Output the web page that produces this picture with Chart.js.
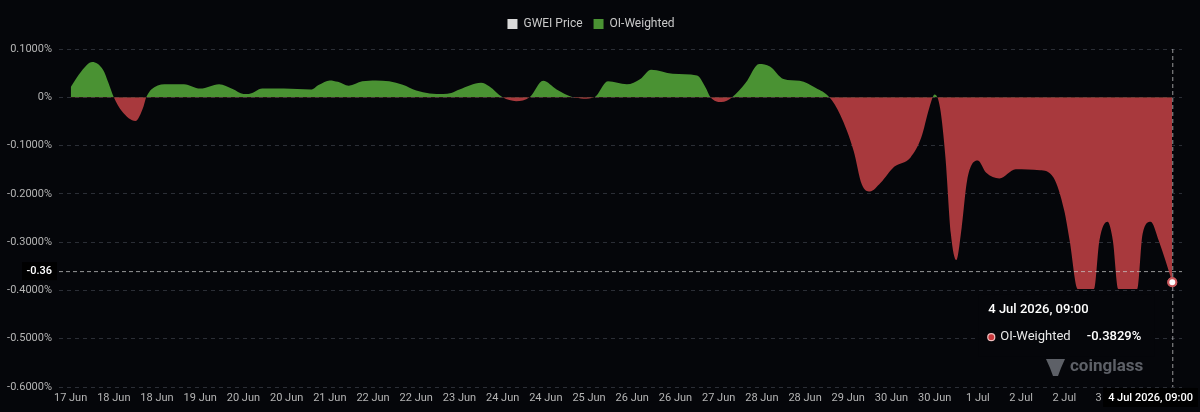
<!DOCTYPE html>
<html lang="en">
<head>
    <meta charset="UTF-8">
    <title>OI-Weighted Funding Rate</title>
    <style>
body {
    margin: 0;
    padding: 0;
    background-color: #05060a;
}

#chart-container {
    width: 1200px;
    height: 412px;
}
    </style>
</head>
<body>
    <div id="chart-container">
        <canvas id="fundingChart"></canvas>
    </div>

    <script src="https://cdn.jsdelivr.net/npm/chart.js"></script>
    <script>
        // hours counted from 17 Jun 09:00
        const hours = [0, 4, 8, 12, 14, 16, 19, 24, 27, 28, 31, 36, 42, 48, 55, 60, 64, 66, 71, 79,
            89, 92, 96, 99, 103, 108, 113, 118, 123, 128, 133, 138, 141, 144, 152, 155, 160, 165, 170, 175,
            180, 186, 190, 194, 199, 206, 211, 215, 223, 232, 235, 237, 241, 245, 250, 255, 259, 264, 270, 276,
            281, 285, 290, 293, 296, 300, 305, 311, 315, 318, 320, 322, 324, 326, 328, 330, 332, 336, 339, 344,
            350, 359, 364, 368, 370, 373, 379, 381, 384, 386, 388, 395, 397, 400, 403, 408];

        const oiWeighted = [0.021, 0.054, 0.073, 0.057, 0.030, 0, -0.029, -0.049, -0.019, 0, 0.021, 0.027, 0.027, 0.018, 0.027, 0.017, 0.007, 0.007, 0.018, 0.018,
            0.016, 0.026, 0.035, 0.032, 0.024, 0.033, 0.035, 0.033, 0.026, 0.014, 0.008, 0.007, 0.009, 0.016, 0.030, 0.023, 0, -0.008, 0, 0.034,
            0.016, 0, -0.003, 0, 0.033, 0.027, 0.038, 0.057, 0.049, 0.045, 0.022, 0, -0.010, 0, 0.030, 0.069, 0.064, 0.038, 0.034, 0.019,
            0, -0.036, -0.111, -0.180, -0.195, -0.177, -0.144, -0.125, -0.084, -0.022, 0.006, -0.022, -0.125, -0.283, -0.337, -0.270, -0.173, -0.131, -0.156, -0.168,
            -0.149, -0.151, -0.166, -0.235, -0.297, -0.397, -0.397, -0.297, -0.258, -0.297, -0.397, -0.397, -0.283, -0.258, -0.297, -0.3829];

        // one label every 16 hours
        const xTickLabels = ['17 Jun', '18 Jun', '18 Jun', '19 Jun', '20 Jun', '20 Jun', '21 Jun', '22 Jun', '22 Jun',
            '23 Jun', '24 Jun', '24 Jun', '25 Jun', '26 Jun', '26 Jun', '27 Jun', '28 Jun', '28 Jun', '29 Jun',
            '30 Jun', '30 Jun', '1 Jul', '2 Jul', '2 Jul', '3 Jul'];
        const tickStep = 16;

        const lastLabel = '4 Jul 2026, 09:00';
        const cursorValue = -0.36;

        const green = '#4a9233';
        const red = '#a8393d';
        const bg = '#05060a';
        const fontFamily = 'Roboto, "DejaVu Sans", sans-serif';

        const lastIndex = oiWeighted.length - 1;

        // page background
        const backgroundPlugin = {
            id: 'background',
            beforeDraw(chart) {
                const c = chart.ctx;
                c.save();
                c.fillStyle = bg;
                c.fillRect(0, 0, chart.width, chart.height);
                c.restore();
            }
        };

        // a bit more room under the legend
        const legendGapPlugin = {
            id: 'legendGap',
            beforeLayout(chart) {
                const lg = chart.legend;
                if (lg && !lg._gapPatched) {
                    const fit = lg.fit.bind(lg);
                    lg.fit = function () {
                        fit();
                        this.height += 9;
                    };
                    lg._gapPatched = true;
                }
            }
        };

        // crosshair, tooltip and watermark
        const overlayPlugin = {
            id: 'overlay',
            afterDraw(chart) {
                const c = chart.ctx;
                const area = chart.chartArea;
                const point = chart.getDatasetMeta(1).data[lastIndex];
                const px = point.x;
                const py = point.y;
                const cy = chart.scales.y.getPixelForValue(cursorValue);

                c.save();
                c.strokeStyle = 'rgba(200, 200, 200, 0.75)';
                c.lineWidth = 1;
                c.setLineDash([4, 3]);
                c.beginPath();
                c.moveTo(px + 0.5, area.top);
                c.lineTo(px + 0.5, area.bottom);
                c.moveTo(area.left, cy + 0.5);
                c.lineTo(area.right, cy + 0.5);
                c.stroke();
                c.setLineDash([]);

                // redraw the point over the crosshair
                c.beginPath();
                c.arc(px, py, 4, 0, Math.PI * 2);
                c.fillStyle = '#ffffff';
                c.fill();
                c.lineWidth = 2;
                c.strokeStyle = '#c9575b';
                c.stroke();

                // y cursor label
                c.font = '500 11px ' + fontFamily;
                c.fillStyle = '#000000';
                c.fillRect(22, cy - 9, 35, 18);
                c.fillStyle = '#ffffff';
                c.textAlign = 'right';
                c.textBaseline = 'middle';
                c.fillText(cursorValue.toString(), 52, cy);

                // x cursor label
                const lw = c.measureText(lastLabel).width + 10;
                const lx = Math.min(px - lw / 2, chart.width - lw - 2);
                c.fillStyle = '#000000';
                c.fillRect(lx, area.bottom + 1, lw, 19);
                c.fillStyle = '#ffffff';
                c.textAlign = 'left';
                c.fillText(lastLabel, lx + 5, area.bottom + 11);

                // tooltip
                const tx = px - 194;
                const ty = py + 12;
                c.fillStyle = bg;
                c.fillRect(tx, ty, 176, 62);
                c.fillStyle = '#ffffff';
                c.font = '500 13px ' + fontFamily;
                c.textAlign = 'left';
                c.fillText(lastLabel, tx + 10, ty + 16);
                c.beginPath();
                c.arc(tx + 13, ty + 43, 3.5, 0, Math.PI * 2);
                c.fillStyle = '#c9373b';
                c.fill();
                c.lineWidth = 1.2;
                c.strokeStyle = '#f0c0c0';
                c.stroke();
                c.fillStyle = '#e8e8e8';
                c.font = '13px ' + fontFamily;
                c.fillText('OI-Weighted', tx + 22, ty + 43);
                c.font = '500 13px ' + fontFamily;
                c.fillStyle = '#ffffff';
                c.textAlign = 'right';
                c.fillText(oiWeighted[lastIndex].toFixed(4) + '%', tx + 163, ty + 43);

                // watermark
                const wx = 1046;
                const wy = 367;
                c.fillStyle = '#5d6067';
                c.beginPath();
                c.moveTo(wx, wy - 8);
                c.lineTo(wx + 19, wy - 8);
                c.lineTo(wx + 15, wy + 1);
                c.lineTo(wx + 12, wy + 9);
                c.lineTo(wx + 7, wy + 9);
                c.lineTo(wx + 4, wy + 1);
                c.closePath();
                c.fill();
                c.font = 'bold 17px ' + fontFamily;
                c.textAlign = 'left';
                c.fillText('coinglass', wx + 24, wy);
                c.restore();
            }
        };

        const ctx = document.getElementById('fundingChart').getContext('2d');
        const chart = new Chart(ctx, {
            type: 'line',
            data: {
                datasets: [
                    {
                        label: 'GWEI Price',
                        data: [],
                        backgroundColor: '#d9d9d9',
                        borderColor: '#d9d9d9',
                        borderWidth: 0
                    },
                    {
                        label: 'OI-Weighted',
                        data: hours.map((h, i) => ({ x: h, y: oiWeighted[i] })),
                        backgroundColor: green,
                        borderColor: 'rgba(0,0,0,0)',
                        borderWidth: 0,
                        fill: { target: 'origin', above: green, below: red },
                        cubicInterpolationMode: 'monotone',
                        pointRadius: (c) => c.dataIndex === lastIndex ? 4 : 0,
                        pointBackgroundColor: '#ffffff',
                        pointBorderColor: '#c9575b',
                        pointBorderWidth: 2
                    }
                ]
            },
            options: {
                responsive: true,
                maintainAspectRatio: false,
                animation: false,
                layout: {
                    padding: { top: 7, right: 18, left: 0, bottom: 0 }
                },
                plugins: {
                    legend: {
                        position: 'top',
                        labels: {
                            color: '#c9c9c9',
                            boxWidth: 10,
                            boxHeight: 10,
                            padding: 11,
                            font: { family: fontFamily, size: 12 },
                            generateLabels: (ch) => ch.data.datasets.map((d, i) => ({
                                text: d.label,
                                fillStyle: d.backgroundColor,
                                strokeStyle: d.backgroundColor,
                                lineWidth: 0,
                                fontColor: '#c9c9c9',
                                hidden: false,
                                datasetIndex: i
                            }))
                        }
                    },
                    tooltip: { enabled: false }
                },
                scales: {
                    x: {
                        type: 'linear',
                        min: -4.3,
                        max: 411.6,
                        grid: { display: false, drawTicks: false },
                        border: { display: false },
                        afterBuildTicks: (axis) => {
                            axis.ticks = xTickLabels.map((t, i) => ({ value: i * tickStep }));
                        },
                        afterFit: (axis) => { axis.height = 25; },
                        ticks: {
                            autoSkip: false,
                            maxRotation: 0,
                            color: '#b5b5b5',
                            padding: 5,
                            font: { family: fontFamily, size: 11 },
                            callback: (v, i) => xTickLabels[i]
                        }
                    },
                    y: {
                        min: -0.6,
                        max: 0.1,
                        grid: { color: '#2b2e36', lineWidth: 1, drawTicks: false },
                        border: { display: false, dash: [4, 4] },
                        afterFit: (axis) => { axis.width = 59; },
                        ticks: {
                            stepSize: 0.1,
                            color: '#b5b5b5',
                            padding: 7,
                            font: { family: fontFamily, size: 11 },
                            callback: (v) => Math.abs(v) < 1e-9 ? '0%' : v.toFixed(4) + '%'
                        }
                    }
                }
            },
            plugins: [backgroundPlugin, legendGapPlugin, overlayPlugin]
        });
    </script>
</body>
</html>
